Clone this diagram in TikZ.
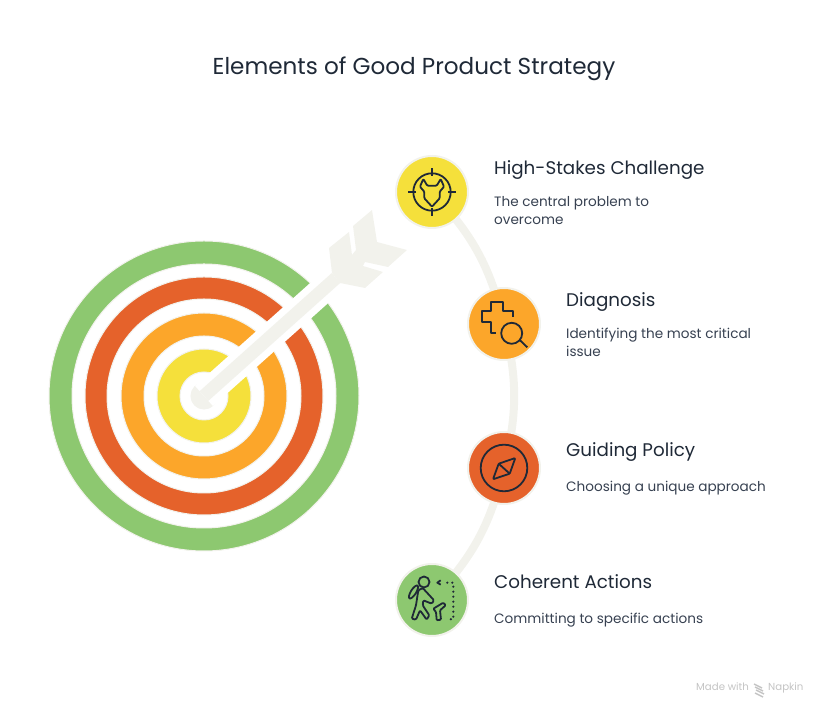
\documentclass[tikz,border=0pt]{standalone}
\usepackage{fontspec}
\setmainfont{Poppins}
\usetikzlibrary{positioning,calc,backgrounds}
\definecolor{paleline}{HTML}{F2F2EC}
\definecolor{ringyellow}{HTML}{F5E03B}
\definecolor{ringorange}{HTML}{FCA62A}
\definecolor{ringred}{HTML}{E5622B}
\definecolor{ringgreen}{HTML}{8DC870}
\definecolor{darkink}{HTML}{1F2937}
\definecolor{bodyink}{HTML}{374151}
\definecolor{footink}{HTML}{C4C4C4}
\tikzset{
  ringnode/.style={circle,inner sep=0pt,draw=paleline,line width=1pt},
  iconnode/.style={circle,inner sep=0pt,minimum size=72pt,draw=paleline,line width=2pt,on grid},
  iconline/.style={draw=darkink,line width=1.8pt,line join=round},
  linkarc/.style={draw=paleline,line width=8pt},
  headtext/.style={anchor=base west,inner sep=0pt,text=darkink,font=\fontsize{18.3}{22}\selectfont},
  desctext/.style={anchor=base west,inner sep=0pt,text=bodyink,align=left,font=\fontsize{13.6}{18}\selectfont},
  foottext/.style={anchor=base west,inner sep=0pt,text=footink,font=\fontsize{10.2}{12}\selectfont}
}

\begin{document}
\begin{tikzpicture}[x=1pt,y=1pt]
      \useasboundingbox (0,0) rectangle (828,714);
      \node[anchor=base,inner sep=0pt,text=darkink,font=\fontsize{23.1}{28}\selectfont] (title) at (414,639) {Elements of Good Product Strategy};

      % target
      \coordinate (target) at (204,318);
      \foreach \rsize/\rcol in {310/ringgreen,264/white,238/ringred,194/white,166/ringorange,120/white,94/ringyellow,48/white,26/paleline}
        \node[ringnode,minimum size=\rsize pt,fill=\rcol] at (target) {};

      % arrow
      \coordinate (joint) at (336,436);
      \draw[white,line width=27pt] (target) -- (joint);
      \draw[paleline,line width=13pt] (target) -- (joint);
      \fill[paleline] (332,441) -- (329,466) -- (349,482) -- (352,459) -- (356,464) -- (353,488)
        -- (372,504) -- (377,472) -- (407,464) -- (388,447) -- (365,452) -- (363,448)
        -- (383,442) -- (365,426) -- (340,431) -- cycle;

      % steps
      \node[iconnode,fill=ringyellow] (high) at (432,522) {};
      \node[iconnode,fill=ringorange,below right=132pt and 72pt of high] (diag) {};
      \node[iconnode,fill=ringred,below=144pt of diag] (guide) {};
      \node[iconnode,fill=ringgreen,below left=132pt and 72pt of guide] (acts) {};
      \begin{scope}[on background layer]
        \draw[linkarc] (high.center) to[bend left=15] (diag.center);
        \draw[linkarc] (diag.center) to[bend left=14] (guide.center);
        \draw[linkarc] (guide.center) to[bend left=15] (acts.center);
      \end{scope}

      % crosshair with bull
      \begin{scope}[shift={(high)},iconline]
        \draw (0,0) circle (18.7);
        \foreach \ang in {0,90,180,270}
          \draw (\ang:16) -- (\ang:23.7);
        \draw[rounded corners=1pt] (-8.7,13) -- (-12,5.3) -- (-7.7,.3) -- (-7.7,-6.3) -- (0,-14.7) -- (7.7,-6.3)
          -- (7.7,.3) -- (12,5.3) -- (8.7,13) -- (4.7,6.3) -- (-4.7,6.3) -- cycle;
      \end{scope}

      % plus with magnifier
      \begin{scope}[shift={(diag)},iconline]
        \draw (9,7.3) -- (9,13) -- (-1,13) -- (-1,21.7) -- (-12.7,21.7) -- (-12.7,13) -- (-22,13)
          -- (-22,1.7) -- (-12.7,1.7) -- (-12.7,-8.7) -- (-7.7,-8.7);
        \draw (7.7,-9.3) circle (10.5);
        \draw (15.7,-16) -- (23.3,-23.3);
      \end{scope}

      % compass
      \begin{scope}[shift={(guide)},iconline]
        \draw (0,0) circle (23.3);
        \draw[rounded corners=1pt] (11.3,10) -- (-5.3,4.3) -- (-11,-11.3) -- (5.7,-5.7) -- cycle;
        \draw (-5.3,4.3) -- (5.7,-5.7);
      \end{scope}

      % walker
      \begin{scope}[shift={(acts)},iconline]
        \draw (-8,18) circle (5.5);
        \draw[rotate around={58:(-18.5,8)}] (-18.5,8) ellipse (7.5 and 2.6);
        \draw[rounded corners=1.2pt] (-13.7,9.7) -- (-9.3,12) -- (2,-.3) -- (-.3,-3.7) -- (-8.7,-.3) -- (-9.3,-5.3)
          -- (-2.7,-15.3) -- (-5.3,-19.7) -- (-12,-10.3) -- (-16,-19.7) -- (-20.3,-18.7) -- (-16,-5.3) -- cycle;
        \draw[rounded corners=1pt] (1.3,-8.7) -- (11.3,-2.7) -- (13.7,-5.3) -- (8,-10.3) -- (9,-19.7) -- (4.7,-20.3)
          -- (4,-12) -- cycle;
        \draw (8.7,19.7) -- (5.3,17.3) -- (8.7,15.3);
        \draw[line width=2.4pt,line cap=round,dash pattern=on 0pt off 5pt] (15.3,17.3) -- (21.3,17.3) -- (21.3,-19.3) -- (15.3,-19.3);
      \end{scope}

      % labels
      \node[headtext] (hightitle) at ($(high)+(62,17)$) {High-Stakes Challenge};
      \node[desctext] (highdesc) at ($(high)+(62,-33)$) {The central problem to\\overcome};
      \node[headtext] (diagtitle) at ($(diag)+(62,17)$) {Diagnosis};
      \node[desctext] (diagdesc) at ($(diag)+(62,-33)$) {Identifying the most critical\\issue};
      \node[headtext] (guidetitle) at ($(guide)+(62,11)$) {Guiding Policy};
      \node[desctext] (guidedesc) at ($(guide)+(62,-24)$) {Choosing a unique approach};
      \node[headtext] (actstitle) at ($(acts)+(62,11)$) {Coherent Actions};
      \node[desctext] (actsdesc) at ($(acts)+(62,-24)$) {Committing to specific actions};

      % footer
      \node[foottext] (madewith) at (696,23) {Made with};
      \node[foottext] (napkin) at (768,23) {Napkin};
      \foreach \yy/\xx in {21/755,24/756,27/755,30/754}
        \draw[footink,line width=1.4pt] (\xx,\yy) -- (\xx+8,\yy-4);
\end{tikzpicture}
\end{document}
